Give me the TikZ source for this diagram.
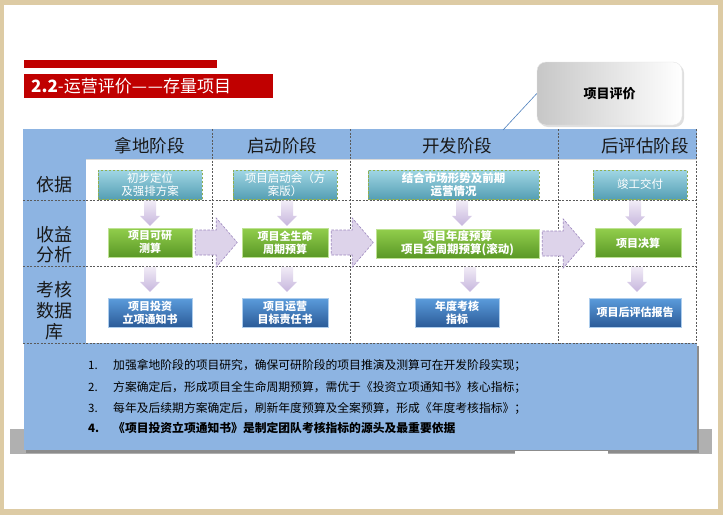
\documentclass[tikz,border=0pt]{standalone}
\usepackage{fontspec}
\setmainfont{Noto Sans CJK SC}
\usetikzlibrary{calc,shadows}
\definecolor{framec}{HTML}{DDCBA4}
\definecolor{titlered}{HTML}{C00000}
\definecolor{hdrblue}{HTML}{8DB4E2}
\definecolor{tealtop}{HTML}{A0D6E4}
\definecolor{tealbot}{HTML}{559FB4}
\definecolor{tealdash}{HTML}{8FAE52}
\definecolor{greentop}{HTML}{92CE4C}
\definecolor{greenbot}{HTML}{5A9826}
\definecolor{bluetop}{HTML}{5B9CDC}
\definecolor{bluebot}{HTML}{2B5B98}
\definecolor{arrfill}{HTML}{DDD3EA}
\definecolor{arrdash}{HTML}{9D87BE}
\definecolor{dntop}{HTML}{F1ECF6}
\definecolor{dnbot}{HTML}{C7B6DD}
\definecolor{graybar}{HTML}{B0B0B0}
\definecolor{gridc}{HTML}{5A5A5A}
\definecolor{calloutline}{HTML}{4F81BD}
\newcommand\downblock[3]{%
  \path[dnarrow] let \p1=(#1), \p2=(#2.north) in
    (\x1-6pt,\y1) -- (\x1+6pt,\y1) -- (\x1+6pt,\y2+#3+10pt) -- (\x1+10pt,\y2+#3+10pt)
    -- (\x1,\y2+#3) -- (\x1-10pt,\y2+#3+10pt) -- (\x1-6pt,\y2+#3+10pt) -- cycle;}
\newcommand\rightblock[2]{%
  \path[rtarrow] let \p1=(#1.east), \p2=(#2.west) in
    (\x1+3pt,\y1+12.5pt) -- (\x1+24pt,\y1+12.5pt) -- (\x1+24pt,\y1+24.5pt)
    -- (\x1+45pt,\y1) -- (\x1+24pt,\y1-24.5pt) -- (\x1+24pt,\y1-12.5pt)
    -- (\x1+3pt,\y1-12.5pt) -- cycle;}
\begin{document}
\begin{tikzpicture}[x=1pt,y=-1pt,
  gridline/.style={draw=gridc, line width=0.6pt, dash pattern=on 2pt off 1.5pt},
  basisbox/.style={draw=tealdash, line width=0.8pt, dash pattern=on 2.5pt off 1.5pt,
    top color=tealtop, bottom color=tealbot, text=white, align=center,
    inner sep=0pt, minimum height=29pt, font=\fontsize{11.5}{13}\selectfont},
  profitbox/.style={draw=greentop!60!white, line width=0.5pt,
    top color=greentop, bottom color=greenbot, text=white, align=center,
    inner sep=0pt, minimum height=29pt, font=\bfseries\fontsize{11}{13}\selectfont},
  checkbox/.style={draw=bluetop!50!white, line width=0.5pt,
    top color=bluetop, bottom color=bluebot, text=white, align=center,
    inner sep=0pt, minimum height=29pt, font=\bfseries\fontsize{11}{13}\selectfont},
  dnarrow/.style={top color=dntop, bottom color=dnbot},
  rtarrow/.style={fill=arrfill, draw=arrdash, line width=0.6pt, dash pattern=on 2.5pt off 1.5pt},
  phase/.style={font=\fontsize{17.5}{19}\selectfont, text=black!90},
  rowlabel/.style={font=\fontsize{18}{20}\selectfont, text=black!90, align=center},
  listnum/.style={anchor=west, font=\fontsize{11.5}{13}\selectfont, inner sep=0pt},
  listtxt/.style={anchor=west, font=\fontsize{11.8}{13}\selectfont, inner sep=0pt},
  callout/.style={rounded corners=9pt, minimum width=145pt, minimum height=63pt,
    left color=black!22, right color=white, draw=black!10, line width=0.4pt,
    drop shadow={shadow xshift=2pt, shadow yshift=-2pt, opacity=0.25},
    font=\bfseries\fontsize{13}{15}\selectfont}
]
\useasboundingbox (0,0) rectangle (723,515);
% frame
\fill[framec] (0,0) rectangle (723,515);
\fill[white] (4,5) rectangle (718,509);
% title
\fill[titlered] (24,60) rectangle (217,68);
\fill[titlered] (24,74) rectangle (273,98);
\node[anchor=west, text=white, inner sep=0pt, font=\fontsize{17}{19}\selectfont] (title) at (31,86.5)
  {\textbf{2.2}-运营评价—\kern1pt—存量项目};
% bottom gray bar and summary box
\fill[graybar] (10,429) rectangle (712,454);
\fill[black!45] (26,346) rectangle (699,453);
\fill[white] (515,450.6) rectangle (608,455);
\fill[hdrblue] (24,343) rectangle (697,450);
% table
\fill[hdrblue] (23,129) rectangle (697,159);
\fill[hdrblue] (23,159) rectangle (86,343);
\fill[white] (86,159) rectangle (696,343);
\draw[black!15, line width=0.8pt] (86,159.5) -- (697,159.5);
% grid
\draw[gridline] (23,200) -- (696,200);
\draw[gridline] (23,266) -- (696,266);
\draw[gridline] (23,343) -- (696,343);
\draw[gridline] (212,129) -- (212,343);
\draw[gridline] (350,129) -- (350,343);
\draw[gridline] (558,129) -- (558,343);
\draw[gridline] (696,129) -- (696,343);
% header texts
\node[phase] (p1) at (149.5,146) {拿地阶段};
\node[phase] (p2) at (282,146) {启动阶段};
\node[phase] (p3) at (457,146) {开发阶段};
\node[phase] (p4) at (645,146) {后评估阶段};
% row labels
\node[rowlabel] (r1) at (54,185) {依据};
\node[rowlabel] (r2) at (54,245) {收益\\分析};
\node[rowlabel, font=\fontsize{18}{21}\selectfont] (r3) at (54,311) {考核\\数据\\库};
% basis boxes
\node[basisbox, minimum width=104pt] (A1) at (150,184.5) {初步定位\\及强排方案};
\node[basisbox, minimum width=104pt] (A2) at (285,184.5) {项目启动会（方\\案版）};
\node[basisbox, minimum width=171pt, font=\bfseries\fontsize{11.5}{13}\selectfont] (A3) at (453.5,184.5) {结合市场形势及前期\\运营情况};
\node[basisbox, minimum width=94pt] (A4) at (640,184.5) {竣工交付};
% profit boxes
\node[profitbox, minimum width=84pt] (B1) at (150,242.5) {项目可研\\测算};
\node[profitbox, minimum width=86pt] (B2) at (285,242.5) {项目全生命\\周期预算};
\node[profitbox, minimum width=163pt, font=\bfseries\fontsize{11.5}{13}\selectfont] (B3) at (457.5,243.5) {项目年度预算\\项目全周期预算(滚动)};
\node[profitbox, minimum width=86pt] (B4) at (638,243) {项目决算};
% check boxes
\node[checkbox, minimum width=84pt] (C1) at (150,312.5) {项目投资\\立项通知书};
\node[checkbox, minimum width=86pt] (C2) at (285,312.5) {项目运营\\目标责任书};
\node[checkbox, minimum width=84pt] (C3) at (457,312.5) {年度考核\\指标};
\node[checkbox, minimum width=92pt] (C4) at (635,312.5) {项目后评估报告};
% arrow start coordinates
\coordinate (t1) at (150,200.5);
\coordinate (t2) at (287,200.5);
\coordinate (t3) at (462,200.5);
\coordinate (t4) at (635,200.5);
\coordinate (u1) at (150,266.8);
\coordinate (u2) at (287,266.8);
\coordinate (u3) at (470,266.8);
\coordinate (u4) at (637,266.8);
\downblock{t1}{B1}{2pt}
\downblock{t2}{B2}{2pt}
\downblock{t3}{B3}{3pt}
\downblock{t4}{B4}{2pt}
\downblock{u1}{C1}{6pt}
\downblock{u2}{C2}{6pt}
\downblock{u3}{C3}{6pt}
\downblock{u4}{C4}{6pt}
\rightblock{B1}{B2}
\rightblock{B2}{B3}
\rightblock{B3}{B4}
% callout
\node[callout] (eval) at (609.5,93.5) {项目评价};
\coordinate (cl) at (503,130);
\draw[calloutline, line width=0.6pt] (eval.west) -- (cl);
% summary list
\node[listnum] (n1) at (88,365) {1.};
\node[listtxt] (l1) at (113,365) {加强拿地阶段的项目研究，确保可研阶段的项目推演及测算可在开发阶段实现；};
\node[listnum] (n2) at (88,387) {2.};
\node[listtxt] (l2) at (113,387) {方案确定后，形成项目全生命周期预算，需优于《投资立项通知书》核心指标；};
\node[listnum] (n3) at (88,408) {3.};
\node[listtxt] (l3) at (113,408) {每年及后续期方案确定后，刷新年度预算及全案预算，形成《年度考核指标》；};
\node[listnum, font=\bfseries\fontsize{11.5}{13}\selectfont] (n4) at (88,428) {4.};
\node[listtxt, font=\bfseries\fontsize{11.8}{13}\selectfont] (l4) at (113,428) {《项目投资立项通知书》是制定团队考核指标的源头及最重要依据};
\end{tikzpicture}
\end{document}
